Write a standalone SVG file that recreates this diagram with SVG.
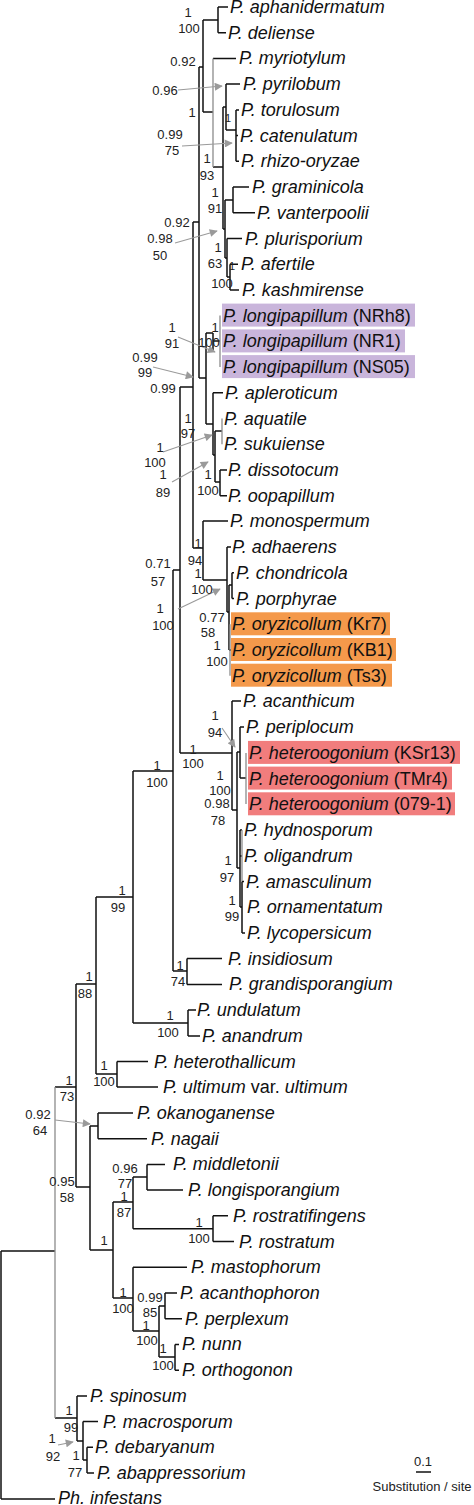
<svg xmlns="http://www.w3.org/2000/svg" width="474" height="1505" viewBox="0 0 474 1505">
<style>
.t{font-family:"Liberation Sans",Arial,sans-serif;font-size:18px;fill:#111}
.i{font-style:italic}
.s{font-family:"Liberation Sans",Arial,sans-serif;font-size:13px;fill:#222;text-anchor:middle}
.ss{font-size:11px}
.br{stroke:#111;stroke-width:1.5;fill:none}
.gr{stroke:#8c8c8c;stroke-width:1.3;fill:none}
.ar{stroke:#9a9a9a;stroke-width:1.1;fill:none;marker-end:url(#ah)}
.hp{fill:#c9b5db}.ho{fill:#f4994b}.hr{fill:#f17d7d}
</style>
<defs>
<marker id="ah" viewBox="0 0 10 10" refX="9" refY="5" markerWidth="9" markerHeight="8" orient="auto" markerUnits="userSpaceOnUse"><path d="M0,0 L10,5 L0,10 z" fill="#9a9a9a"/></marker>
</defs>
<rect width="474" height="1505" fill="#fff"/>
<g id="highlights">
<rect class="hp" x="222" y="303.6" width="193" height="23"/>
<rect class="hp" x="222" y="329.4" width="183" height="23"/>
<rect class="hp" x="222" y="355.1" width="193" height="23"/>
<rect class="ho" x="231" y="612.3" width="159" height="23"/>
<rect class="ho" x="231" y="638" width="165" height="23"/>
<rect class="ho" x="231" y="663.7" width="161" height="23"/>
<rect class="hr" x="248" y="740.9" width="212" height="23"/>
<rect class="hr" x="248" y="766.6" width="204" height="23"/>
<rect class="hr" x="248" y="792.3" width="207" height="23"/>
</g>
<g id="connectors">
<path class="br" d="M1 1251V1499M1 1251H55M1 1499H55
M55 1087H76M55 1418H77
M76 984V1187M76 984H96M76 1187H90
M96 897V1074M96 897H133M96 1074H117
M117 1061.5V1087M117 1061.5H148M117 1087H158
M133 771V1023M133 771H173M133 1023H188
M188 1010V1036M188 1010H196M188 1036H200
M173 570V971M173 570H180M173 971H187
M187 958.6V984.4M187 958.6H222M187 984.4H222
M180 387V753M180 387H193M180 753H232
M232 701V810M232 701H241M232 810H237
M237 752V868M237 752H240M237 868H240
M240 727V778M240 727H244M240 778H246
M240 830V907M240 830H242M240 856H242M240 907H242
M242 881.5V933M242 881.5H244M242 933H245
M193 222V548M193 222H199M193 548H203
M203 521V580M203 521H228M203 580H227
M227 547V612M227 547H231M227 612H229
M229 585V650M229 585H232M229 650H231
M232 572.8V598.6M232 572.8H234M232 598.6H234
M199 67V378M199 67H203M199 378H206
M203 20V112M203 20H218M203 112H213
M218 7V32.7M218 7H228M218 32.7H226
M213 58.4H236M213 167H223
M223 107V229M223 107H226M223 229H225
M226 84V130M226 84H240M226 130H236
M236 110V161.3M236 110H239M236 135.6H238M236 161.3H239
M225 200V258M225 200H233M225 258H227
M233 187V212.8M233 187H249M233 212.8H255
M227 238.5V277M227 238.5H242M227 277H230
M230 264.2V290M230 264.2H238M230 290H239
M206 333V424M206 333H213M213 333V350M213 341H220M206 424H213
M213 392.8V455M213 392.8H223M213 455H215
M215 431V482M215 431H222M215 482H220
M220 470V495.7M220 470H227M220 495.7H227
M90 1126V1250M90 1126H98M90 1250H113
M98 1113V1138.7M98 1113H133M98 1138.7H147
M113 1202V1298M113 1202H133M113 1298H133
M133 1177V1228.7M133 1177H147M133 1228.7H213
M147 1164.4V1190.1M147 1164.4H165M147 1190.1H183
M213 1215.8V1241.6M213 1215.8H228M213 1241.6H234
M133 1267.3V1331M133 1267.3H187M133 1331H159
M159 1306V1357M159 1306H165M159 1357H175
M165 1293V1318.7M165 1293H177M165 1318.7H182
M175 1344.4V1370.2M175 1344.4H179M175 1370.2H179
M77 1395.9V1441M77 1395.9H87M77 1441H83
M83 1421.6V1460M83 1421.6H98M83 1460H87
M87 1447.3V1473M87 1447.3H93M87 1473H94"/>
<path class="gr" d="M55 1087V1418M213 58.4V167M246 753V804M220 315.6V367.1M222 418.5V444.2M230 624.3V675.7M242 830V881"/>
<path class="ar" d="M178 90L222 86"/>
<path class="ar" d="M182 146L232 143"/>
<path class="ar" d="M175 243L217 231"/>
<path class="ar" d="M178 337L215 352"/>
<path class="ar" d="M153 367L193 377"/>
<path class="ar" d="M163 452L212 435"/>
<path class="ar" d="M172 482L208 462"/>
<path class="ar" d="M178 609L220 589"/>
<path class="ar" d="M222 728L235 747"/>
<path class="ar" d="M55 1120L90 1124"/>
<path class="ar" d="M58 1445L73 1442"/>
</g>
<g id="support">
<text class="s" x="188" y="16.6">1</text><text class="s" x="189" y="32.6">100</text>
<text class="s" x="183" y="65.6">0.92</text>
<text class="s" x="165" y="94.6">0.96</text>
<text class="s" x="192" y="116.6">1</text>
<text class="s ss" x="228" y="122">1</text>
<text class="s" x="170" y="138.6">0.99</text><text class="s" x="172" y="154.6">75</text>
<text class="s" x="207" y="162.6">1</text><text class="s" x="207" y="179.6">93</text>
<text class="s" x="215" y="196.6">1</text><text class="s" x="215" y="212.6">91</text>
<text class="s" x="177" y="226.6">0.92</text>
<text class="s" x="160" y="242.6">0.98</text><text class="s" x="160" y="259.6">50</text>
<text class="s" x="218" y="251.6">1</text><text class="s" x="215" y="267.6">63</text>
<text class="s ss" x="232" y="270">1</text>
<text class="s" x="222" y="287.6">100</text>
<text class="s" x="172" y="331.6">1</text><text class="s" x="172" y="347.6">91</text>
<text class="s" x="215" y="331.6">1</text><text class="s" x="209" y="346.6">100</text>
<text class="s" x="145" y="361.6">0.99</text><text class="s" x="145" y="376.6">99</text>
<text class="s" x="163" y="392.6">0.99</text>
<text class="s" x="188" y="422.6">1</text><text class="s" x="188" y="437.6">97</text>
<text class="s" x="160" y="451.6">1</text><text class="s" x="155" y="466.6">100</text>
<text class="s" x="163" y="478.6">1</text><text class="s" x="163" y="496.6">89</text>
<text class="s" x="208" y="478.6">1</text><text class="s" x="208" y="494.6">100</text>
<text class="s" x="198" y="547.6">1</text><text class="s" x="195" y="564.6">94</text>
<text class="s" x="158" y="567.6">0.71</text><text class="s" x="158" y="585.6">57</text>
<text class="s" x="198" y="577.6">1</text><text class="s" x="202" y="593.6">100</text>
<text class="s" x="160" y="612.6">1</text><text class="s" x="163" y="629.6">100</text>
<text class="s" x="212" y="621.6">0.77</text><text class="s" x="208" y="636.6">58</text>
<text class="s" x="217" y="649.6">1</text><text class="s" x="217" y="665.6">100</text>
<text class="s" x="215" y="719.6">1</text><text class="s" x="215" y="736.6">94</text>
<text class="s" x="193" y="753.6">1</text><text class="s" x="193" y="767.6">100</text>
<text class="s" x="220" y="779.6">1</text><text class="s" x="220" y="794.6">100</text>
<text class="s" x="217" y="807.6">0.98</text><text class="s" x="218" y="824.6">78</text>
<text class="s" x="228" y="864.6">1</text><text class="s" x="227" y="881.6">97</text>
<text class="s" x="232" y="904.6">1</text><text class="s" x="232" y="920.6">99</text>
<text class="s" x="157" y="769.6">1</text><text class="s" x="157" y="786.6">100</text>
<text class="s" x="122" y="894.6">1</text><text class="s" x="118" y="911.6">99</text>
<text class="s" x="180" y="969.6">1</text><text class="s" x="178" y="985.6">74</text>
<text class="s" x="89" y="980.6">1</text><text class="s" x="85" y="997.6">88</text>
<text class="s" x="170" y="1019.6">1</text><text class="s" x="168" y="1036.6">100</text>
<text class="s" x="104" y="1069.6">1</text><text class="s" x="104" y="1085.6">100</text>
<text class="s" x="69" y="1084.6">1</text><text class="s" x="67" y="1100.6">73</text>
<text class="s" x="38" y="1118.6">0.92</text><text class="s" x="40" y="1134.6">64</text>
<text class="s" x="62" y="1185.6">0.95</text><text class="s" x="67" y="1201.6">58</text>
<text class="s" x="125" y="1172.6">0.96</text><text class="s" x="125" y="1187.6">77</text>
<text class="s" x="124" y="1200.6">1</text><text class="s" x="124" y="1216.6">87</text>
<text class="s" x="199" y="1226.6">1</text><text class="s" x="199" y="1242.6">100</text>
<text class="s" x="104" y="1244.6">1</text>
<text class="s" x="123" y="1296.6">1</text><text class="s" x="123" y="1312.6">100</text>
<text class="s" x="150" y="1301.6">0.99</text><text class="s" x="150" y="1316.6">85</text>
<text class="s" x="146" y="1329.6">1</text><text class="s" x="147" y="1344.6">100</text>
<text class="s" x="163" y="1352.6">1</text><text class="s" x="163" y="1369.6">100</text>
<text class="s" x="69" y="1414.6">1</text><text class="s" x="71" y="1431.6">99</text>
<text class="s" x="52" y="1442.6">1</text><text class="s" x="53" y="1460.6">92</text>
<text class="s" x="76" y="1459.6">1</text><text class="s" x="75" y="1476.6">77</text>
</g>
<g id="tip-aphanidermatum"><text class="t i" x="230" y="13">P. aphanidermatum</text></g>
<g id="tip-deliense"><text class="t i" x="228" y="38.7">P. deliense</text></g>
<g id="tip-myriotylum"><text class="t i" x="239" y="64.4">P. myriotylum</text></g>
<g id="tip-pyrilobum"><text class="t i" x="243" y="90.2">P. pyrilobum</text></g>
<g id="tip-torulosum"><text class="t i" x="241" y="115.9">P. torulosum</text></g>
<g id="tip-catenulatum"><text class="t i" x="240" y="141.6">P. catenulatum</text></g>
<g id="tip-rhizo-oryzae"><text class="t i" x="241" y="167.3">P. rhizo-oryzae</text></g>
<g id="tip-graminicola"><text class="t i" x="252" y="193">P. graminicola</text></g>
<g id="tip-vanterpoolii"><text class="t i" x="257" y="218.8">P. vanterpoolii</text></g>
<g id="tip-plurisporium"><text class="t i" x="245" y="244.5">P. plurisporium</text></g>
<g id="tip-afertile"><text class="t i" x="241" y="270.2">P. afertile</text></g>
<g id="tip-kashmirense"><text class="t i" x="242" y="295.9">P. kashmirense</text></g>
<g id="tip-longipapillum-NRh8"><text class="t" x="223" y="321.6"><tspan class="i">P. longipapillum</tspan> (NRh8)</text></g>
<g id="tip-longipapillum-NR1"><text class="t" x="223" y="347.4"><tspan class="i">P. longipapillum</tspan> (NR1)</text></g>
<g id="tip-longipapillum-NS05"><text class="t" x="223" y="373.1"><tspan class="i">P. longipapillum</tspan> (NS05)</text></g>
<g id="tip-apleroticum"><text class="t i" x="225" y="398.8">P. apleroticum</text></g>
<g id="tip-aquatile"><text class="t i" x="224" y="424.5">P. aquatile</text></g>
<g id="tip-sukuiense"><text class="t i" x="224" y="450.2">P. sukuiense</text></g>
<g id="tip-dissotocum"><text class="t i" x="228" y="476">P. dissotocum</text></g>
<g id="tip-oopapillum"><text class="t i" x="228" y="501.7">P. oopapillum</text></g>
<g id="tip-monospermum"><text class="t i" x="230" y="527.4">P. monospermum</text></g>
<g id="tip-adhaerens"><text class="t i" x="232" y="553.1">P. adhaerens</text></g>
<g id="tip-chondricola"><text class="t i" x="236" y="578.8">P. chondricola</text></g>
<g id="tip-porphyrae"><text class="t i" x="236" y="604.6">P. porphyrae</text></g>
<g id="tip-oryzicollum-Kr7"><text class="t" x="232" y="630.3"><tspan class="i">P. oryzicollum</tspan> (Kr7)</text></g>
<g id="tip-oryzicollum-KB1"><text class="t" x="232" y="656"><tspan class="i">P. oryzicollum</tspan> (KB1)</text></g>
<g id="tip-oryzicollum-Ts3"><text class="t" x="232" y="681.7"><tspan class="i">P. oryzicollum</tspan> (Ts3)</text></g>
<g id="tip-acanthicum"><text class="t i" x="243" y="707.4">P. acanthicum</text></g>
<g id="tip-periplocum"><text class="t i" x="246" y="733.2">P. periplocum</text></g>
<g id="tip-heteroogonium-KSr13"><text class="t" x="249" y="758.9"><tspan class="i">P. heteroogonium</tspan> (KSr13)</text></g>
<g id="tip-heteroogonium-TMr4"><text class="t" x="249" y="784.6"><tspan class="i">P. heteroogonium</tspan> (TMr4)</text></g>
<g id="tip-heteroogonium-079-1"><text class="t" x="249" y="810.3"><tspan class="i">P. heteroogonium</tspan> (079-1)</text></g>
<g id="tip-hydnosporum"><text class="t i" x="244" y="836">P. hydnosporum</text></g>
<g id="tip-oligandrum"><text class="t i" x="244" y="861.8">P. oligandrum</text></g>
<g id="tip-amasculinum"><text class="t i" x="246" y="887.5">P. amasculinum</text></g>
<g id="tip-ornamentatum"><text class="t i" x="247" y="913.2">P. ornamentatum</text></g>
<g id="tip-lycopersicum"><text class="t i" x="247" y="938.9">P. lycopersicum</text></g>
<g id="tip-insidiosum"><text class="t i" x="228" y="964.6">P. insidiosum</text></g>
<g id="tip-grandisporangium"><text class="t i" x="229" y="990.4">P. grandisporangium</text></g>
<g id="tip-undulatum"><text class="t i" x="197" y="1016.1">P. undulatum</text></g>
<g id="tip-anandrum"><text class="t i" x="202" y="1041.8">P. anandrum</text></g>
<g id="tip-heterothallicum"><text class="t i" x="154" y="1067.5">P. heterothallicum</text></g>
<g id="tip-ultimum"><text class="t" x="163" y="1093.2"><tspan class="i">P. ultimum</tspan> var. <tspan class="i">ultimum</tspan></text></g>
<g id="tip-okanoganense"><text class="t i" x="137" y="1119">P. okanoganense</text></g>
<g id="tip-nagaii"><text class="t i" x="151" y="1144.7">P. nagaii</text></g>
<g id="tip-middletonii"><text class="t i" x="173" y="1170.4">P. middletonii</text></g>
<g id="tip-longisporangium"><text class="t i" x="188" y="1196.1">P. longisporangium</text></g>
<g id="tip-rostratifingens"><text class="t i" x="233" y="1221.8">P. rostratifingens</text></g>
<g id="tip-rostratum"><text class="t i" x="239" y="1247.6">P. rostratum</text></g>
<g id="tip-mastophorum"><text class="t i" x="191" y="1273.3">P. mastophorum</text></g>
<g id="tip-acanthophoron"><text class="t i" x="180" y="1299">P. acanthophoron</text></g>
<g id="tip-perplexum"><text class="t i" x="185" y="1324.7">P. perplexum</text></g>
<g id="tip-nunn"><text class="t i" x="182" y="1350.4">P. nunn</text></g>
<g id="tip-orthogonon"><text class="t i" x="182" y="1376.2">P. orthogonon</text></g>
<g id="tip-spinosum"><text class="t i" x="90" y="1401.9">P. spinosum</text></g>
<g id="tip-macrosporum"><text class="t i" x="103" y="1427.6">P. macrosporum</text></g>
<g id="tip-debaryanum"><text class="t i" x="95" y="1453.3">P. debaryanum</text></g>
<g id="tip-abappressorium"><text class="t i" x="97" y="1479">P. abappressorium</text></g>
<g id="tip-infestans"><text class="t i" x="58" y="1504">Ph. infestans</text></g>
<g id="scale-bar">
<text class="s" x="423" y="1465.5">0.1</text>
<path class="br" d="M416 1472H431"/>
<text class="s" x="422" y="1490.5">Substitution / site</text>
</g>
</svg>
